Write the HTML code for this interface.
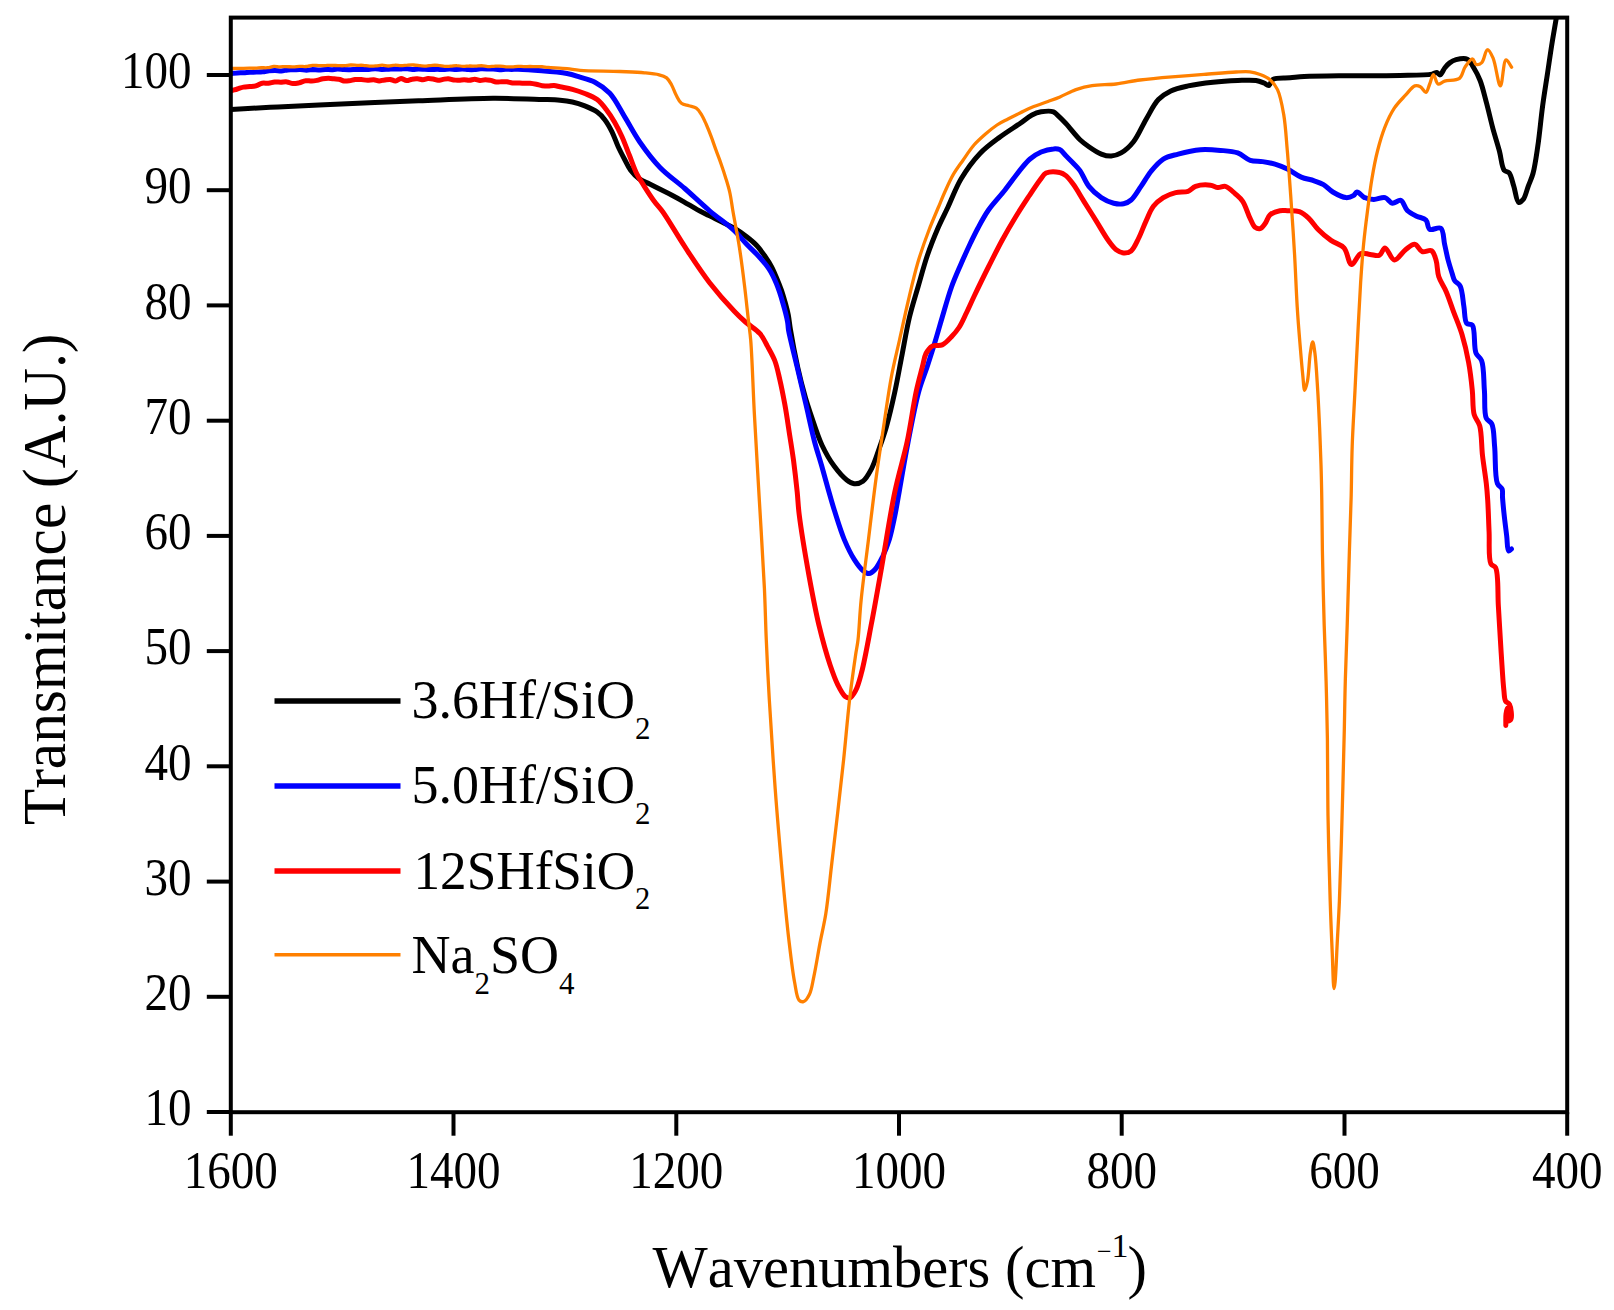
<!DOCTYPE html>
<html lang="en"><head><meta charset="utf-8"><title>FTIR spectra</title>
<style>html,body{margin:0;padding:0;background:#fff}body{width:1614px;height:1310px;overflow:hidden}svg{display:block}text{font-family:"Liberation Serif","Times New Roman",serif;fill:#000;font-kerning:none;font-variant-ligatures:none}</style></head>
<body>
<svg width="1614" height="1310" viewBox="0 0 1614 1310">
<rect x="0" y="0" width="1614" height="1310" fill="#fff"/>
<defs><clipPath id="pa"><rect x="230.8" y="17.6" width="1336.4" height="1094.6000000000001"/></clipPath></defs>
<g clip-path="url(#pa)" fill="none" stroke-linejoin="round" stroke-linecap="round">
<path d="M231.0,109.5C244.0,108.8 256.3,108.0 270.0,107.3C285.4,106.5 299.8,105.9 319.0,105.0C346.4,103.8 387.7,102.0 418.5,100.8C445.1,99.8 470.7,98.4 493.0,98.3C511.2,98.2 530.3,99.1 542.6,99.5C549.9,99.7 554.7,99.7 560.0,100.2C564.5,100.6 568.3,101.1 572.4,102.0C576.6,102.9 580.7,104.2 584.8,105.8C589.0,107.5 593.8,109.5 597.2,112.0C600.2,114.2 602.3,116.4 604.6,119.4C607.3,122.9 609.8,127.4 612.0,131.8C614.3,136.5 616.0,142.0 618.2,146.7C620.2,151.0 622.3,155.0 624.4,159.0C626.4,162.8 628.1,166.9 630.6,170.2C633.1,173.5 636.1,176.6 639.3,178.9C642.3,181.1 645.9,182.2 649.2,183.8C652.5,185.5 655.6,187.0 659.1,188.8C663.0,190.8 667.4,192.8 671.5,195.0C675.7,197.2 679.7,199.4 683.9,201.8C688.3,204.3 692.8,207.2 697.2,209.6C701.4,211.9 705.5,213.7 709.6,215.8C713.7,217.9 717.9,219.9 722.0,222.0C726.1,224.1 730.3,225.8 734.3,228.2C738.5,230.7 742.9,233.8 746.7,236.8C750.3,239.6 753.6,242.2 756.7,245.5C759.9,248.9 762.7,253.0 765.3,256.7C767.6,260.0 769.6,263.1 771.5,266.6C773.4,270.1 774.9,273.9 776.5,277.7C778.2,281.7 779.9,285.9 781.4,290.1C782.8,294.2 784.0,298.4 785.2,302.5C786.3,306.6 787.4,310.5 788.3,314.9C789.2,319.7 789.5,323.9 790.5,330.0C792.1,339.7 795.1,355.4 797.7,367.2C800.1,378.0 803.0,389.3 805.5,398.0C807.4,404.5 808.8,408.5 811.0,415.0C814.0,423.7 817.8,436.2 822.0,445.2C825.7,453.0 829.8,460.2 834.3,466.3C838.2,471.6 842.8,477.0 846.7,479.9C849.3,481.9 851.6,483.4 854.2,483.7C856.9,484.0 860.3,483.1 862.9,481.2C866.3,478.8 869.0,473.6 871.5,468.8C874.5,463.1 876.6,455.8 879.0,449.0C881.6,441.8 884.0,435.0 886.4,426.7C889.3,416.5 892.2,403.9 894.8,392.0C897.5,379.7 899.7,366.6 902.2,354.0C904.6,341.6 906.7,328.7 909.5,317.0C912.1,306.2 915.3,296.3 918.3,286.0C921.3,275.7 924.1,264.9 927.5,255.0C930.7,245.6 934.4,236.4 938.0,228.0C941.2,220.5 944.5,214.5 948.0,207.0C952.1,198.3 955.7,187.9 961.0,179.0C966.4,170.0 973.1,160.7 980.0,153.5C986.2,147.0 993.2,142.1 1000.0,137.0C1006.6,132.1 1014.2,127.5 1020.0,123.5C1024.5,120.4 1028.1,117.0 1032.0,115.0C1035.1,113.4 1037.8,112.4 1041.1,111.8C1044.9,111.2 1050.7,110.8 1053.5,111.8C1055.3,112.4 1055.7,113.6 1057.2,114.9C1059.5,117.0 1062.7,120.1 1065.9,123.5C1070.1,128.0 1075.7,135.6 1080.0,139.7C1083.2,142.7 1085.6,144.4 1088.9,146.7C1092.6,149.3 1097.3,152.5 1101.3,154.1C1104.7,155.4 1107.9,156.3 1111.2,156.1C1114.5,155.9 1117.8,154.8 1121.1,152.9C1125.3,150.5 1129.7,146.5 1133.5,141.7C1138.2,135.8 1141.8,126.6 1146.0,119.4C1150.1,112.6 1153.7,104.5 1158.4,99.6C1162.2,95.6 1166.1,93.1 1170.8,90.9C1175.9,88.5 1181.8,87.3 1188.1,85.9C1195.6,84.3 1204.7,83.1 1213.0,82.2C1221.3,81.3 1230.2,80.8 1237.8,80.5C1244.3,80.3 1251.2,79.8 1256.0,80.5C1259.3,81.0 1261.7,82.1 1264.0,83.0C1265.8,83.8 1267.4,85.9 1268.8,85.5C1270.5,85.1 1270.7,80.7 1273.0,79.3C1276.5,77.2 1284.6,78.3 1290.0,77.8C1294.9,77.4 1298.0,76.8 1304.1,76.5C1315.4,75.9 1336.2,75.9 1352.2,75.7C1368.2,75.5 1385.7,75.8 1400.0,75.5C1411.7,75.2 1426.0,75.2 1432.0,74.1C1434.4,73.7 1435.5,72.3 1436.9,72.5C1438.1,72.7 1438.9,75.1 1440.0,74.9C1441.6,74.6 1443.2,69.8 1444.9,67.7C1446.4,65.9 1447.9,64.2 1449.7,62.9C1451.6,61.5 1453.6,60.4 1456.1,59.7C1459.2,58.9 1464.3,57.8 1467.3,59.2C1470.2,60.6 1471.7,64.5 1473.7,67.7C1476.0,71.4 1478.2,75.5 1480.1,80.5C1482.6,86.8 1484.4,95.2 1486.5,102.9C1488.7,111.2 1490.7,120.3 1492.9,128.6C1495.0,136.3 1497.5,143.8 1499.4,151.0C1501.2,157.7 1501.6,167.1 1504.2,170.3C1505.5,172.0 1507.6,171.2 1509.0,172.7C1511.2,175.2 1512.3,181.6 1513.8,186.3C1515.5,191.4 1516.3,201.5 1518.6,202.3C1520.0,202.8 1522.0,200.8 1523.4,199.1C1525.5,196.4 1526.6,190.6 1528.2,186.3C1529.8,182.0 1531.6,178.6 1533.0,173.5C1535.0,166.2 1536.3,156.2 1537.8,146.2C1539.6,134.2 1540.9,118.8 1542.6,106.2C1544.1,94.9 1545.8,84.8 1547.4,74.1C1549.0,63.4 1550.6,52.0 1552.2,42.1C1553.6,33.5 1555.2,24.5 1556.3,18.0C1557.0,13.6 1557.4,10.7 1558.0,7.0" stroke="#000" stroke-width="5.0"/>
<path d="M231.0,73.5C233.1,73.3 235.2,73.0 237.3,72.9C239.4,72.8 241.5,72.9 243.6,72.8C245.7,72.7 247.8,72.4 249.9,72.3C252.0,72.1 254.1,72.2 256.2,72.1C258.3,72.0 260.4,72.0 262.5,71.8C264.6,71.6 266.7,71.1 268.8,70.8C270.9,70.6 273.0,70.4 275.1,70.4C277.2,70.4 279.3,71.0 281.4,70.9C283.5,70.8 285.6,70.1 287.7,69.9C289.8,69.8 291.9,69.9 294.0,69.8C296.1,69.7 298.2,69.4 300.2,69.5C302.3,69.6 304.4,70.2 306.5,70.2C308.5,70.2 310.6,69.7 312.7,69.6C314.8,69.6 316.9,70.0 318.9,69.9C321.0,69.9 323.1,69.6 325.2,69.5C327.3,69.5 329.3,69.7 331.4,69.7C333.5,69.6 335.6,69.1 337.6,69.1C339.7,69.1 341.8,69.5 343.9,69.6C346.0,69.7 348.0,69.8 350.1,69.7C352.2,69.7 354.3,69.4 356.4,69.4C358.4,69.3 360.5,69.5 362.6,69.5C364.7,69.5 366.7,69.5 368.8,69.4C370.9,69.3 373.0,68.8 375.1,68.8C377.1,68.8 379.2,69.3 381.3,69.4C383.4,69.5 385.5,69.3 387.5,69.2C389.6,69.1 391.7,68.9 393.8,68.8C395.8,68.8 397.9,69.1 400.0,69.0C402.1,68.9 404.1,68.5 406.2,68.5C408.3,68.6 410.3,69.3 412.4,69.4C414.5,69.5 416.6,69.0 418.6,69.0C420.7,69.0 422.8,69.2 424.8,69.3C426.9,69.4 429.0,69.5 431.1,69.5C433.1,69.5 435.2,69.3 437.3,69.3C439.3,69.3 441.4,69.6 443.5,69.5C445.5,69.5 447.6,69.0 449.7,69.0C451.8,69.0 453.8,69.4 455.9,69.4C458.0,69.5 460.0,69.1 462.1,69.1C464.2,69.1 466.2,69.5 468.3,69.6C470.4,69.7 472.5,69.7 474.5,69.6C476.6,69.4 478.7,68.9 480.7,68.8C482.8,68.7 484.9,68.8 486.9,68.9C489.0,68.9 491.1,68.8 493.2,69.0C495.2,69.1 497.3,69.7 499.4,69.7C501.4,69.8 503.5,69.3 505.6,69.2C507.6,69.2 509.7,69.4 511.8,69.4C513.9,69.4 515.0,69.2 518.0,69.3C526.6,69.6 556.0,71.5 567.0,73.5C572.8,74.6 575.5,75.8 580.0,77.2C584.8,78.7 590.1,79.7 594.9,82.2C600.1,84.9 605.2,88.4 609.8,93.3C615.4,99.3 619.8,108.9 624.7,116.9C629.7,125.0 633.9,133.5 639.6,141.7C645.6,150.4 652.4,159.6 660.0,167.4C667.5,175.2 676.6,181.3 684.8,188.5C693.1,195.8 701.2,203.7 709.6,210.8C717.7,217.7 727.7,224.4 734.3,230.6C739.4,235.4 742.5,239.9 746.7,244.3C750.8,248.6 755.3,252.5 759.1,256.7C762.7,260.7 766.1,264.5 769.0,269.0C772.0,273.6 774.3,278.6 776.5,283.9C778.9,289.7 780.9,296.2 782.7,302.5C784.6,308.9 786.7,316.9 787.6,322.0C788.2,325.2 787.9,326.4 788.5,330.0C789.9,337.9 794.3,354.8 797.2,367.2C800.1,379.6 803.0,391.9 805.9,404.3C808.8,416.7 811.6,430.4 814.5,441.5C816.9,450.6 819.5,458.1 821.8,466.3C824.1,474.3 826.2,482.3 828.4,490.0C830.5,497.2 832.2,503.6 834.6,511.1C837.4,519.9 840.7,531.1 844.3,539.6C847.4,546.9 850.7,553.9 854.2,559.4C857.0,563.8 860.0,568.1 862.9,570.5C864.9,572.2 867.0,573.7 869.0,573.6C871.1,573.5 873.3,571.4 875.2,569.3C877.9,566.4 880.4,561.2 882.7,556.5C885.2,551.3 887.4,545.8 889.3,539.6C891.5,532.5 893.1,524.1 894.8,516.0C896.5,507.6 897.8,499.7 899.5,490.0C901.7,477.6 904.1,462.7 907.0,447.7C910.3,430.4 914.6,406.8 918.6,392.0C921.3,382.0 924.2,375.6 927.0,367.2C929.8,358.6 932.7,349.6 935.3,341.0C937.8,332.8 939.8,325.4 942.3,317.0C945.1,307.5 948.2,296.3 951.5,287.0C954.5,278.7 957.8,271.5 961.0,264.0C964.1,256.8 967.5,249.4 970.5,243.0C973.1,237.6 975.2,233.2 978.0,228.0C981.1,222.2 984.3,216.0 988.5,210.0C993.2,203.3 999.7,196.7 1005.0,190.0C1010.2,183.4 1015.4,175.8 1020.0,170.2C1023.6,165.9 1026.3,162.1 1030.0,159.0C1033.4,156.1 1037.2,153.7 1041.1,152.0C1045.0,150.3 1050.1,149.1 1053.5,148.9C1055.9,148.7 1057.8,148.7 1059.7,149.6C1062.0,150.7 1063.7,153.6 1065.9,155.8C1068.3,158.2 1070.9,160.7 1073.3,163.2C1075.6,165.6 1077.8,167.5 1080.0,170.6C1083.0,174.8 1085.2,181.8 1088.9,186.4C1092.4,190.8 1096.9,194.7 1101.3,197.6C1105.2,200.2 1109.7,202.3 1113.7,203.3C1117.1,204.1 1120.6,204.4 1123.6,203.8C1126.4,203.2 1128.7,202.1 1131.1,200.0C1134.5,197.1 1137.7,191.1 1141.0,186.4C1144.4,181.6 1147.2,176.1 1150.9,171.5C1154.6,167.0 1158.6,162.0 1163.3,159.1C1167.8,156.3 1172.7,155.6 1178.2,154.1C1184.8,152.3 1193.2,150.3 1200.5,149.7C1207.3,149.2 1214.0,149.8 1220.4,150.4C1226.4,150.9 1232.7,151.1 1237.8,152.9C1242.5,154.6 1245.9,158.9 1250.2,160.3C1254.2,161.6 1258.5,161.0 1262.6,161.6C1266.7,162.2 1270.9,162.9 1275.0,164.1C1279.2,165.3 1283.2,167.0 1287.4,169.0C1292.0,171.2 1296.5,175.1 1301.2,177.1C1305.5,178.9 1310.3,179.4 1314.2,180.8C1317.6,182.0 1320.5,182.9 1323.5,184.6C1326.7,186.5 1329.3,189.9 1332.8,192.0C1336.7,194.3 1342.1,197.3 1345.9,197.6C1348.7,197.8 1351.4,196.8 1353.3,195.7C1354.9,194.8 1355.5,192.1 1357.0,192.0C1359.0,191.9 1361.7,196.4 1364.5,197.6C1367.3,198.9 1370.6,199.4 1373.8,199.5C1377.4,199.6 1381.8,196.8 1385.0,197.6C1387.9,198.3 1389.7,202.8 1392.4,203.2C1395.0,203.6 1398.4,199.6 1400.8,200.4C1403.6,201.4 1404.6,207.9 1407.3,210.6C1409.9,213.1 1413.4,214.6 1416.6,216.2C1419.6,217.7 1423.7,217.7 1425.9,219.9C1428.1,222.1 1427.3,227.9 1429.7,229.3C1432.2,230.8 1438.3,226.5 1440.8,228.3C1443.8,230.5 1443.4,238.9 1444.6,244.2C1445.8,249.5 1446.8,254.9 1448.1,260.0C1449.4,264.8 1451.1,270.2 1452.3,274.0C1453.1,276.6 1453.4,278.5 1454.6,280.5C1455.9,282.6 1458.8,283.3 1460.2,286.1C1462.5,290.6 1462.8,300.1 1463.9,306.6C1464.9,312.4 1464.4,320.6 1466.7,323.3C1468.1,324.9 1470.8,323.4 1472.3,325.2C1475.5,329.1 1473.5,346.9 1476.0,353.1C1477.4,356.6 1480.2,357.0 1481.6,360.6C1484.1,367.0 1483.6,380.6 1484.4,390.4C1485.2,399.8 1483.8,412.8 1486.3,418.3C1487.6,421.2 1490.4,421.1 1491.8,423.9C1494.1,428.6 1493.8,437.8 1494.6,446.2C1495.7,457.0 1494.6,476.8 1497.4,483.5C1498.6,486.4 1501.2,486.8 1502.1,489.0C1503.0,491.3 1502.3,493.9 1502.5,497.0C1502.8,501.5 1503.4,507.7 1504.0,513.6C1504.7,520.5 1505.9,529.3 1506.7,536.0C1507.4,541.5 1507.1,550.2 1508.6,550.9C1509.3,551.2 1510.5,549.6 1511.4,549.0" stroke="#0000ff" stroke-width="5.0"/>
<path d="M231.0,90.9C233.1,90.3 235.2,89.6 237.3,89.0C239.4,88.4 241.4,87.5 243.5,87.1C245.6,86.7 247.7,86.8 249.8,86.6C251.9,86.4 254.0,86.4 256.0,85.8C258.1,85.3 260.1,83.6 262.2,83.2C264.2,82.8 266.3,83.4 268.4,83.2C270.5,83.0 272.5,82.2 274.6,82.0C276.6,81.8 278.7,82.2 280.7,82.2C282.8,82.2 284.8,81.7 286.9,81.9C288.9,82.1 290.9,83.5 293.0,83.6C295.1,83.7 297.2,83.2 299.2,82.8C301.3,82.3 303.4,80.9 305.5,80.7C307.5,80.4 309.7,81.1 311.7,81.0C313.6,80.9 315.4,80.6 317.3,80.3C319.1,79.9 321.0,79.1 322.9,78.8C324.7,78.5 326.6,78.3 328.4,78.3C330.3,78.3 332.2,78.6 334.0,78.8C335.7,79.0 337.4,78.9 339.0,79.3C340.7,79.6 342.3,80.7 344.0,81.0C345.6,81.2 347.3,81.0 349.0,80.8C351.0,80.6 353.1,79.8 355.2,79.5C357.2,79.3 359.3,79.4 361.4,79.5C363.4,79.7 365.5,80.3 367.5,80.3C369.6,80.3 371.7,79.6 373.7,79.7C375.6,79.8 377.3,80.8 379.2,80.9C381.0,80.9 382.8,80.1 384.7,79.9C386.5,79.7 388.3,79.3 390.1,79.4C392.0,79.6 393.8,81.1 395.6,80.9C397.5,80.8 399.3,78.6 401.1,78.5C402.9,78.5 404.7,80.5 406.6,80.6C408.4,80.7 410.2,79.5 412.0,79.2C413.9,78.8 415.7,78.7 417.5,78.8C419.4,78.9 421.2,79.7 423.0,79.7C424.7,79.7 426.3,78.7 428.0,78.6C429.7,78.5 431.3,78.8 433.0,79.1C434.7,79.3 436.3,80.2 438.0,80.3C439.7,80.4 441.3,79.7 443.0,79.4C444.7,79.1 446.5,78.6 448.3,78.7C450.1,78.8 451.8,79.7 453.6,79.9C455.3,80.2 457.1,80.3 458.9,80.2C460.6,80.2 462.4,79.7 464.1,79.7C465.9,79.7 467.7,80.4 469.4,80.3C471.2,80.2 473.0,79.2 474.7,79.2C476.5,79.2 478.2,80.4 480.0,80.5C481.8,80.6 483.6,79.7 485.4,79.7C487.2,79.7 489.0,80.1 490.8,80.4C492.6,80.8 494.4,81.8 496.2,82.0C498.0,82.2 499.8,81.8 501.6,81.7C503.4,81.7 505.2,81.6 507.0,81.8C508.8,82.0 510.6,82.7 512.4,82.9C514.2,83.1 515.9,82.9 517.8,83.0C519.8,83.1 521.9,83.3 524.0,83.3C526.0,83.4 528.1,83.2 530.1,83.3C532.2,83.5 534.3,83.9 536.3,84.3C538.3,84.7 540.2,85.4 542.2,85.7C544.2,86.0 546.2,86.1 548.1,86.1C550.1,86.0 552.1,85.4 554.1,85.5C556.1,85.6 557.7,86.3 560.0,86.8C563.4,87.5 568.3,88.2 572.4,89.3C576.6,90.4 580.7,91.8 584.8,93.5C589.0,95.2 593.5,96.8 597.2,99.6C601.0,102.5 604.2,106.9 607.1,110.7C609.9,114.3 612.1,117.8 614.5,121.9C617.1,126.4 619.6,131.4 622.0,136.7C624.6,142.5 626.9,149.1 629.4,155.3C631.9,161.5 634.1,168.4 636.8,173.9C639.1,178.6 641.6,182.0 644.3,186.3C647.3,191.1 650.9,196.7 654.2,201.2C657.1,205.2 659.5,207.3 662.9,212.0C668.7,220.2 677.2,235.1 684.8,246.7C692.7,258.7 701.0,271.6 709.6,282.7C717.6,293.0 727.5,304.1 734.3,311.2C738.6,315.8 741.4,318.4 745.5,322.0C749.9,325.9 756.2,329.4 760.0,333.7C763.3,337.5 765.0,341.7 767.4,346.1C770.0,350.8 772.9,355.6 774.9,361.0C777.1,366.8 778.2,372.9 779.8,379.6C781.6,387.2 783.2,395.6 784.8,404.3C786.6,414.0 788.2,425.5 789.7,435.3C791.1,444.0 792.3,451.3 793.5,460.1C794.8,470.1 796.2,482.4 797.2,492.0C798.0,499.9 798.0,504.6 799.1,513.7C801.0,529.1 805.5,556.2 809.0,575.7C812.2,593.2 815.3,609.8 819.0,625.4C822.4,639.4 826.5,654.2 830.1,665.0C832.7,672.7 834.9,679.0 837.7,684.6C840.0,689.2 842.7,694.5 845.2,696.5C846.7,697.6 848.2,698.4 849.6,698.0C851.7,697.4 853.9,693.8 855.6,690.6C858.1,686.1 859.5,680.2 861.5,672.7C864.7,660.8 868.0,641.7 871.1,625.4C874.5,607.9 877.5,590.7 881.0,570.8C885.3,546.9 889.9,515.3 894.8,492.0C898.7,473.2 903.6,458.3 907.2,441.5C910.7,425.0 913.2,405.6 916.1,392.0C918.2,382.3 920.5,374.2 922.3,367.2C923.7,362.0 924.1,357.2 926.0,353.5C927.6,350.4 929.5,347.5 932.2,346.1C934.9,344.6 939.1,346.3 942.2,344.9C945.7,343.3 948.9,339.5 951.7,336.5C954.4,333.7 956.7,331.0 959.0,327.5C961.8,323.3 964.1,317.6 966.6,312.5C969.1,307.3 971.1,302.6 974.0,296.5C978.0,288.1 983.6,276.5 988.4,267.0C993.0,257.9 997.4,249.0 1002.0,240.5C1006.4,232.5 1010.7,225.0 1015.3,217.5C1019.8,210.0 1025.0,202.2 1029.4,195.5C1033.1,189.9 1036.9,184.1 1040.0,180.0C1042.2,177.2 1043.2,174.4 1046.0,173.1C1049.4,171.5 1056.1,171.7 1059.7,172.5C1062.3,173.0 1063.9,174.0 1065.9,175.6C1068.5,177.6 1070.7,180.8 1073.3,184.3C1076.7,188.9 1080.2,195.4 1083.9,201.3C1087.9,207.7 1092.2,214.5 1096.3,221.1C1100.4,227.7 1104.9,235.8 1108.7,241.0C1111.4,244.6 1113.5,247.7 1116.2,249.7C1118.5,251.4 1121.1,252.7 1123.6,252.9C1126.1,253.1 1128.9,252.6 1131.1,250.9C1134.1,248.6 1136.2,243.1 1138.5,238.5C1141.2,233.3 1143.4,226.6 1146.0,221.1C1148.4,215.9 1150.3,210.3 1153.4,206.3C1156.2,202.7 1159.6,199.9 1163.3,197.6C1167.0,195.3 1171.5,193.6 1175.7,192.6C1179.8,191.6 1184.6,192.6 1188.1,191.4C1191.1,190.3 1192.5,187.5 1195.6,186.4C1199.6,185.0 1206.4,184.7 1210.5,185.2C1213.4,185.5 1215.4,187.4 1217.9,187.6C1220.4,187.8 1222.9,185.8 1225.4,186.4C1228.6,187.2 1232.3,191.2 1235.3,193.8C1238.0,196.2 1240.5,198.0 1242.7,201.3C1245.7,205.7 1247.8,214.0 1250.2,218.7C1251.9,222.1 1253.1,225.7 1255.1,227.3C1256.6,228.4 1258.5,229.0 1260.1,228.6C1261.9,228.1 1263.6,225.6 1265.1,223.6C1266.9,221.2 1267.6,217.0 1270.0,214.9C1272.5,212.7 1276.8,211.3 1279.9,210.7C1282.5,210.2 1284.6,210.6 1287.4,210.7C1290.9,210.8 1295.7,210.3 1299.3,211.6C1302.8,212.8 1305.7,215.4 1308.6,218.1C1311.9,221.2 1314.4,225.7 1317.9,229.3C1321.7,233.2 1326.5,237.2 1331.0,240.4C1335.2,243.4 1340.7,244.2 1344.0,247.9C1347.7,252.0 1348.5,264.2 1351.5,264.6C1354.2,265.0 1357.3,254.9 1360.8,253.5C1363.6,252.3 1367.0,254.1 1370.1,254.4C1373.2,254.7 1376.9,256.4 1379.4,255.3C1381.9,254.2 1382.9,247.9 1385.0,247.9C1387.7,247.9 1390.9,259.7 1394.3,260.0C1397.7,260.3 1401.8,252.5 1405.5,249.7C1408.6,247.4 1412.0,243.8 1414.8,244.2C1417.6,244.5 1419.3,250.6 1422.2,251.6C1424.9,252.6 1429.2,249.4 1431.5,250.7C1433.9,252.0 1434.8,256.3 1436.0,260.0C1437.5,264.7 1437.1,271.5 1438.8,276.8C1440.5,282.0 1443.9,286.3 1446.2,291.7C1448.9,297.9 1451.1,305.1 1453.7,312.1C1456.4,319.4 1459.6,326.5 1462.0,334.5C1464.6,343.2 1466.9,353.0 1468.6,362.4C1470.3,371.7 1471.4,381.4 1472.3,390.4C1473.2,398.7 1472.4,408.2 1474.2,414.6C1475.5,419.2 1478.3,420.9 1479.7,425.7C1481.8,433.1 1481.4,445.7 1482.5,455.5C1483.6,465.0 1485.4,475.4 1486.3,483.5C1487.0,489.7 1487.3,493.6 1487.7,500.0C1488.3,509.0 1488.6,521.5 1489.1,532.2C1489.6,542.8 1488.2,558.7 1490.9,563.9C1492.1,566.1 1494.4,565.3 1495.6,567.6C1498.7,573.5 1497.5,593.1 1498.4,606.7C1499.4,621.5 1500.2,638.6 1501.2,653.3C1502.1,666.4 1502.9,681.9 1503.9,690.5C1504.4,695.1 1504.2,698.6 1505.5,701.0C1506.4,702.7 1508.6,702.7 1509.5,704.5C1511.1,707.5 1512.1,716.5 1511.0,719.0C1510.5,720.2 1508.9,721.3 1508.3,721.0C1507.0,720.4 1508.0,708.0 1507.5,708.0C1507.1,708.0 1506.3,711.7 1506.0,714.0C1505.6,717.2 1505.9,721.7 1505.8,725.5" stroke="#ff0000" stroke-width="5.0"/>
<path d="M231.0,68.5C233.0,68.5 235.1,68.5 237.1,68.4C239.2,68.4 241.2,68.4 243.2,68.4C245.3,68.3 247.3,68.2 249.4,68.2C251.4,68.2 253.5,68.3 255.5,68.2C257.5,68.1 259.6,67.8 261.6,67.7C263.7,67.7 265.7,67.9 267.8,67.7C269.8,67.5 271.8,66.6 273.9,66.4C275.9,66.3 277.9,66.8 280.0,66.8C282.1,66.8 284.3,66.5 286.5,66.6C288.7,66.6 290.8,67.0 293.0,66.9C295.2,66.9 297.3,66.5 299.5,66.4C301.7,66.3 303.8,66.7 306.0,66.5C308.2,66.3 310.3,65.5 312.5,65.3C314.7,65.2 316.8,65.6 319.0,65.6C321.1,65.6 323.2,65.6 325.3,65.6C327.4,65.5 329.5,65.3 331.6,65.3C333.7,65.3 335.8,65.6 337.9,65.7C340.0,65.7 342.1,65.8 344.2,65.7C346.4,65.6 348.5,65.1 350.6,65.0C352.7,64.9 354.8,65.2 356.9,65.3C359.0,65.3 361.1,65.2 363.2,65.3C365.3,65.5 367.4,66.0 369.5,66.1C371.6,66.2 373.7,66.1 375.8,65.9C377.9,65.8 380.0,65.2 382.1,65.2C384.2,65.2 386.3,66.0 388.4,66.0C390.5,66.0 392.6,65.2 394.8,65.2C396.9,65.1 399.0,65.7 401.1,65.7C403.2,65.7 405.3,65.3 407.4,65.2C409.5,65.0 411.6,64.9 413.7,65.0C415.8,65.1 417.9,65.4 420.0,65.6C422.1,65.8 424.1,66.1 426.2,66.1C428.2,66.0 430.3,65.4 432.3,65.3C434.4,65.2 436.4,65.2 438.5,65.4C440.5,65.5 442.6,66.2 444.6,66.3C446.7,66.5 448.7,66.4 450.8,66.2C452.8,66.1 454.9,65.5 456.9,65.6C459.0,65.6 461.0,66.4 463.1,66.4C465.1,66.5 467.2,66.0 469.2,66.0C471.3,65.9 473.3,66.2 475.4,66.2C477.4,66.1 479.5,65.6 481.5,65.6C483.6,65.7 485.6,66.4 487.7,66.6C489.7,66.7 491.8,66.4 493.8,66.3C495.9,66.2 498.0,66.0 500.0,66.1C502.0,66.2 504.0,66.7 506.0,66.8C508.0,67.0 510.0,67.0 512.0,66.9C514.0,66.8 516.0,66.4 518.0,66.3C520.0,66.3 522.0,66.6 524.0,66.6C526.0,66.6 528.0,66.5 530.0,66.5C532.0,66.5 534.0,66.6 536.0,66.6C538.0,66.7 540.0,66.6 542.0,66.7C544.0,66.8 545.4,67.2 548.0,67.4C552.6,67.8 561.3,68.0 567.0,68.6C571.8,69.1 574.5,69.9 580.0,70.3C589.7,71.1 608.3,71.0 620.0,71.5C629.2,71.9 637.4,72.1 644.5,72.8C650.0,73.3 655.1,73.7 659.1,74.8C662.1,75.6 664.5,76.3 666.6,77.9C668.7,79.6 670.0,82.1 671.5,84.7C673.3,87.9 674.7,92.5 676.5,95.8C678.0,98.6 679.2,101.6 681.4,103.3C683.4,104.9 686.4,105.0 688.9,105.8C691.4,106.6 694.2,106.8 696.3,108.2C698.4,109.6 699.8,112.0 701.3,114.4C703.1,117.2 704.6,120.8 706.2,124.3C707.9,128.2 709.6,132.4 711.2,136.7C712.9,141.1 714.4,145.8 716.1,150.4C717.7,154.9 719.5,159.3 721.1,164.0C722.8,168.8 724.5,174.0 726.0,178.9C727.4,183.5 728.7,187.6 729.8,192.5C731.1,198.2 731.7,203.9 732.9,211.1C734.6,221.1 737.4,234.7 739.3,246.7C741.2,258.9 742.8,271.4 744.3,283.9C745.9,296.5 747.4,311.7 748.6,322.0C749.4,329.1 750.0,331.9 750.7,340.0C752.1,356.3 753.0,388.6 754.4,414.4C755.9,442.2 757.7,472.3 759.4,501.3C761.1,530.2 763.2,562.9 764.4,588.1C765.3,607.6 765.5,622.1 766.3,640.0C767.1,659.2 768.0,677.7 769.3,699.5C770.9,726.3 773.0,759.0 775.2,788.8C777.4,818.6 780.3,851.4 782.7,878.1C784.7,899.9 786.5,919.2 788.6,937.6C790.5,953.6 792.4,970.8 794.6,982.3C796.0,989.6 796.6,997.4 799.0,1000.1C800.2,1001.4 802.0,1002.0 803.5,1001.6C805.6,1001.0 807.9,997.4 809.5,994.2C811.7,989.7 812.4,983.2 813.9,976.3C815.9,967.1 817.9,954.2 819.9,943.6C821.8,933.4 824.0,925.1 825.8,913.8C828.1,899.2 829.8,880.1 831.8,863.2C833.8,846.3 835.7,829.7 837.7,812.6C839.7,795.0 841.8,777.3 843.7,759.0C845.7,739.7 847.5,717.9 849.6,699.5C851.5,683.5 854.0,665.8 855.6,654.9C856.5,648.6 857.3,646.2 858.0,640.0C859.2,630.0 859.6,615.1 861.1,600.5C862.9,582.1 866.1,559.2 868.6,538.5C871.1,517.8 873.6,496.5 876.3,476.5C878.8,457.7 881.7,439.2 884.3,421.9C886.7,406.2 888.6,391.4 891.3,377.2C893.7,364.2 896.7,352.5 899.5,340.0C902.3,327.4 905.0,314.8 908.0,302.0C911.1,288.8 914.3,274.5 918.0,262.0C921.4,250.7 925.3,239.7 929.0,230.0C932.2,221.6 935.6,214.0 938.5,207.0C941.0,201.0 943.0,195.9 945.5,190.5C948.0,185.0 950.5,179.3 953.5,174.2C956.4,169.2 959.7,164.9 963.0,160.2C966.5,155.2 970.1,149.5 974.0,145.0C977.6,140.9 981.6,137.4 985.5,134.0C989.3,130.7 993.1,127.6 997.0,125.0C1000.6,122.6 1004.2,121.0 1008.0,119.0C1011.9,117.0 1016.0,115.0 1020.0,113.0C1024.0,111.1 1027.7,109.1 1032.0,107.3C1036.9,105.3 1043.1,103.3 1048.0,101.5C1052.3,99.9 1055.7,98.7 1060.0,96.9C1065.0,94.8 1070.6,91.5 1076.0,89.6C1081.3,87.8 1086.1,86.5 1092.0,85.6C1099.1,84.5 1108.0,84.9 1116.0,84.0C1124.0,83.1 1131.4,81.1 1140.0,80.0C1149.9,78.7 1161.3,77.7 1172.0,76.8C1182.7,75.9 1193.3,75.2 1204.0,74.4C1214.7,73.6 1227.5,72.4 1236.0,72.0C1241.6,71.7 1245.7,71.3 1250.0,71.8C1253.7,72.3 1256.8,73.2 1260.1,74.5C1263.5,75.8 1267.2,77.3 1270.0,79.7C1273.0,82.2 1275.4,85.3 1277.5,89.6C1280.5,95.8 1282.1,105.2 1283.7,114.4C1285.6,125.5 1286.2,138.4 1287.4,151.7C1288.7,167.0 1289.9,184.4 1291.1,201.3C1292.3,218.8 1293.6,237.3 1294.6,255.0C1295.6,272.4 1296.2,290.8 1297.2,306.6C1298.0,320.0 1299.0,331.9 1300.0,343.8C1300.9,354.8 1301.9,366.9 1302.8,375.5C1303.4,381.4 1303.8,390.3 1304.7,390.4C1305.4,390.5 1306.7,385.0 1307.5,381.0C1308.8,374.2 1309.2,360.3 1310.3,353.1C1311.0,348.5 1311.9,341.9 1312.7,341.9C1313.5,341.9 1314.2,348.3 1314.9,353.1C1316.1,361.9 1316.9,378.0 1317.7,390.4C1318.5,402.8 1319.0,415.2 1319.6,427.6C1320.1,440.0 1320.6,452.6 1321.0,464.8C1321.4,476.7 1321.6,487.2 1321.8,500.0C1322.1,515.4 1322.1,532.3 1322.4,550.9C1322.8,573.4 1323.5,602.4 1324.2,625.4C1324.8,645.3 1325.6,662.4 1326.1,681.2C1326.6,700.3 1327.1,718.4 1327.4,739.0C1327.8,762.7 1327.6,789.3 1328.0,815.5C1328.5,843.2 1329.4,875.7 1330.2,900.9C1330.8,920.8 1331.6,938.6 1332.3,954.4C1332.9,967.0 1333.2,988.5 1334.0,988.5C1334.3,988.5 1334.8,985.1 1335.1,982.1C1335.9,974.7 1336.5,956.8 1337.2,943.7C1337.9,929.8 1338.7,917.6 1339.4,900.9C1340.4,877.3 1341.3,844.0 1342.1,815.5C1342.9,787.0 1343.7,754.5 1344.3,730.0C1344.7,711.5 1344.8,698.0 1345.3,681.2C1345.8,663.2 1346.6,645.3 1347.2,625.4C1347.9,602.4 1348.7,574.0 1349.4,550.9C1350.0,530.9 1350.7,513.0 1351.2,495.0C1351.6,478.2 1351.6,463.0 1352.2,446.2C1352.8,428.2 1354.1,409.0 1355.0,390.4C1355.9,371.8 1356.8,352.8 1357.8,334.5C1358.7,317.0 1359.6,298.9 1360.6,283.0C1361.5,269.1 1362.4,256.5 1363.6,244.2C1364.7,233.1 1365.9,223.2 1367.3,212.5C1368.7,201.5 1370.1,189.6 1371.9,179.0C1373.5,169.2 1375.2,159.9 1377.5,151.0C1379.6,142.6 1382.0,134.2 1385.0,126.8C1387.7,120.1 1390.7,113.7 1394.3,108.2C1397.6,103.2 1401.9,99.1 1405.5,95.2C1408.7,91.8 1411.9,86.9 1414.8,85.9C1416.7,85.3 1418.7,85.9 1420.4,86.8C1422.4,87.8 1424.4,92.7 1425.9,92.4C1427.5,92.1 1428.5,86.9 1429.7,84.0C1431.0,81.0 1432.0,74.8 1433.4,74.7C1434.8,74.6 1435.9,83.2 1438.0,84.0C1439.8,84.7 1441.9,82.0 1444.6,81.2C1448.5,80.0 1456.1,81.0 1459.5,78.4C1462.6,76.0 1462.8,70.5 1465.0,67.2C1467.1,64.1 1470.5,58.7 1472.5,58.9C1474.0,59.0 1474.6,63.9 1476.2,64.5C1477.7,65.0 1480.2,64.1 1481.8,62.6C1484.3,60.3 1485.3,49.8 1487.4,49.6C1489.1,49.4 1491.3,54.1 1493.0,57.9C1495.9,64.3 1498.2,86.0 1500.4,85.9C1502.5,85.9 1503.3,60.4 1506.0,59.8C1507.6,59.4 1509.7,64.7 1511.6,67.2" stroke="#ff8000" stroke-width="3.3"/>
</g>
<rect x="230.8" y="17.6" width="1336.4" height="1094.6000000000001" fill="none" stroke="#000" stroke-width="4"/>
<g stroke="#000" stroke-width="4">
<line x1="206.8" y1="1112.0" x2="230.8" y2="1112.0"/><line x1="206.8" y1="996.8" x2="230.8" y2="996.8"/><line x1="206.8" y1="881.6" x2="230.8" y2="881.6"/><line x1="206.8" y1="766.3" x2="230.8" y2="766.3"/><line x1="206.8" y1="651.1" x2="230.8" y2="651.1"/><line x1="206.8" y1="535.9" x2="230.8" y2="535.9"/><line x1="206.8" y1="420.7" x2="230.8" y2="420.7"/><line x1="206.8" y1="305.4" x2="230.8" y2="305.4"/><line x1="206.8" y1="190.2" x2="230.8" y2="190.2"/><line x1="206.8" y1="75.0" x2="230.8" y2="75.0"/><line x1="1567.2" y1="1112.2" x2="1567.2" y2="1135.7"/><line x1="1344.5" y1="1112.2" x2="1344.5" y2="1135.7"/><line x1="1121.7" y1="1112.2" x2="1121.7" y2="1135.7"/><line x1="899.0" y1="1112.2" x2="899.0" y2="1135.7"/><line x1="676.3" y1="1112.2" x2="676.3" y2="1135.7"/><line x1="453.5" y1="1112.2" x2="453.5" y2="1135.7"/><line x1="230.8" y1="1112.2" x2="230.8" y2="1135.7"/>
</g>
<g>
<text transform="translate(191.5,1125.2) scale(0.905,1)" font-size="52" text-anchor="end">10</text><text transform="translate(191.5,1010.0) scale(0.905,1)" font-size="52" text-anchor="end">20</text><text transform="translate(191.5,894.8) scale(0.905,1)" font-size="52" text-anchor="end">30</text><text transform="translate(191.5,779.5) scale(0.905,1)" font-size="52" text-anchor="end">40</text><text transform="translate(191.5,664.3) scale(0.905,1)" font-size="52" text-anchor="end">50</text><text transform="translate(191.5,549.1) scale(0.905,1)" font-size="52" text-anchor="end">60</text><text transform="translate(191.5,433.9) scale(0.905,1)" font-size="52" text-anchor="end">70</text><text transform="translate(191.5,318.6) scale(0.905,1)" font-size="52" text-anchor="end">80</text><text transform="translate(191.5,203.4) scale(0.905,1)" font-size="52" text-anchor="end">90</text><text transform="translate(191.5,88.2) scale(0.905,1)" font-size="52" text-anchor="end">100</text>
</g>
<g>
<text transform="translate(1567.2,1188.3) scale(0.905,1)" font-size="52" text-anchor="middle">400</text><text transform="translate(1344.5,1188.3) scale(0.905,1)" font-size="52" text-anchor="middle">600</text><text transform="translate(1121.7,1188.3) scale(0.905,1)" font-size="52" text-anchor="middle">800</text><text transform="translate(899.0,1188.3) scale(0.905,1)" font-size="52" text-anchor="middle">1000</text><text transform="translate(676.3,1188.3) scale(0.905,1)" font-size="52" text-anchor="middle">1200</text><text transform="translate(453.5,1188.3) scale(0.905,1)" font-size="52" text-anchor="middle">1400</text><text transform="translate(230.8,1188.3) scale(0.905,1)" font-size="52" text-anchor="middle">1600</text>
</g>
<text transform="translate(652.5,1287.2)" font-size="58.5" text-anchor="start">Wavenumbers (cm<tspan font-size="26" dy="-26.8" dx="1">−</tspan><tspan font-size="34" dy="-3.7" dx="0">1</tspan><tspan dy="30.5" dx="-1">)</tspan></text>
<text transform="translate(64.5,825.0) rotate(-90) scale(0.955,1)" font-size="62" text-anchor="start">Transmitance (A.U.)</text>
<g>
<line x1="274.5" y1="701.0" x2="400.5" y2="701.0" stroke="#000" stroke-width="5.5"/><text transform="translate(411.5,718.4)" font-size="54" text-anchor="start">3.6Hf/SiO<tspan font-size="31" dy="20.5" dx="0">2</tspan></text>
<line x1="274.5" y1="786.0" x2="400.5" y2="786.0" stroke="#0000ff" stroke-width="5.5"/><text transform="translate(411.5,803.4)" font-size="54" text-anchor="start">5.0Hf/SiO<tspan font-size="31" dy="20.5" dx="0">2</tspan></text>
<line x1="274.5" y1="871.0" x2="400.5" y2="871.0" stroke="#ff0000" stroke-width="5.5"/><text transform="translate(413.5,888.8) scale(0.985,1)" font-size="54" text-anchor="start">12SHfSiO<tspan font-size="31" dy="20.5" dx="0">2</tspan></text>
<line x1="274.5" y1="954.7" x2="400.5" y2="954.7" stroke="#ff8000" stroke-width="3.5"/><text transform="translate(411.5,973.4)" font-size="54" text-anchor="start">Na<tspan font-size="31" dy="20.5" dx="0">2</tspan><tspan dy="-20.5" dx="0">SO</tspan><tspan font-size="31" dy="20.5" dx="0">4</tspan></text>
</g>
</svg>
</body></html>
